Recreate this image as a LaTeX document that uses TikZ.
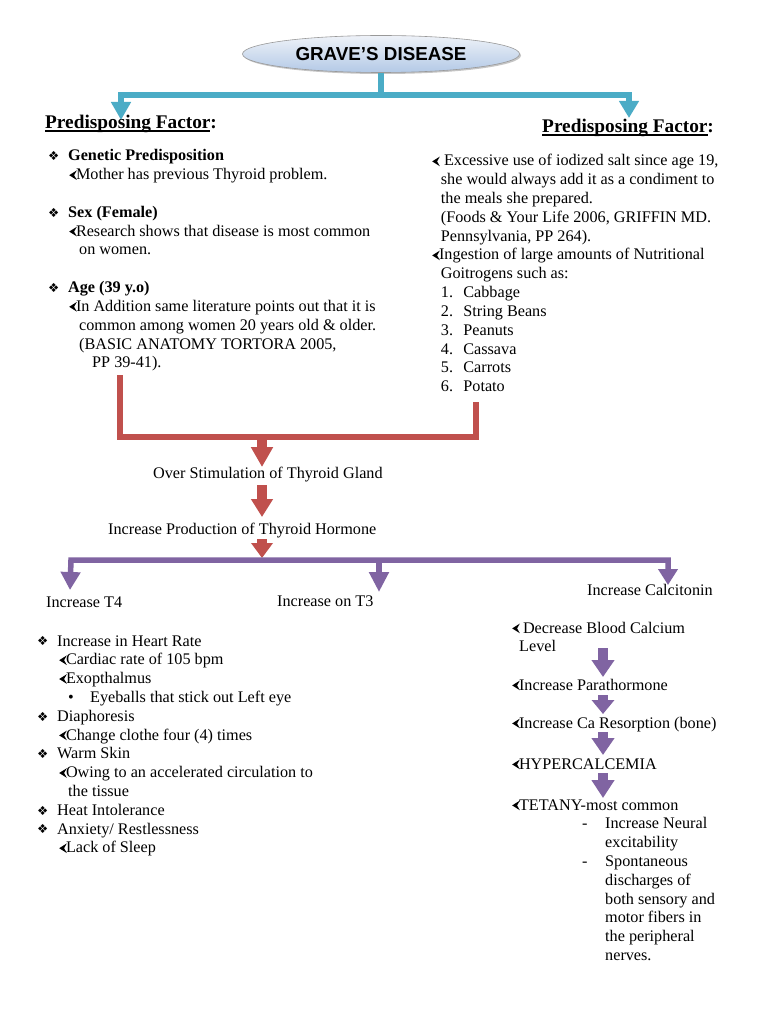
\documentclass[tikz,border=0pt]{standalone}
\usepackage{fontspec}
\setmainfont{Liberation Serif}
\newfontfamily\dejavu{DejaVu Sans}
\newfontfamily\arialf{Liberation Sans}
\usetikzlibrary{arrows.meta,shapes.geometric,shadows}
\definecolor{cblue}{HTML}{4BACC6}
\definecolor{cred}{HTML}{C0504D}
\definecolor{cpurp}{HTML}{8064A2}
\definecolor{elltop}{HTML}{EEF2F8}
\definecolor{ellbot}{HTML}{B3C9E6}
\newcommand\bodyfont{\fontsize{16.2}{18.8}\selectfont}
\newcommand\larr{\tikz[baseline=0pt,x=1pt,y=1pt]\fill (0,4.6)--(7.6,9.4)--(4.9,4.6)--(7.6,-0.2)--cycle;\kern-0.8pt}
\newcommand\dia{\makebox[20pt][l]{\raisebox{0.2pt}{\dejavu\fontsize{12.5}{12.5}\selectfont ❖}}}
\newcommand\ulx[1]{\setbox0\hbox{#1}\rlap{\rule[-2.6pt]{\wd0}{1.2pt}}\box0}
\newcommand\blk[2]{\parbox[t]{#1}{\raggedright\bodyfont #2}}
\begin{document}
\begin{tikzpicture}[x=1pt,y=-1pt,
  txt/.style={inner sep=0pt, anchor=base west, font=\bodyfont},
  hd/.style={inner sep=0pt, anchor=base west, font=\bfseries\fontsize{19.3}{22}\selectfont},
  titlebox/.style={ellipse, minimum width=277pt, minimum height=37pt, inner sep=0pt,
     draw=gray!80, line width=0.6pt, top color=elltop, bottom color=ellbot,
     drop shadow={shadow xshift=1.5pt, shadow yshift=-1.5pt, opacity=0.45},
     font=\arialf\bfseries\fontsize{18.8}{20}\selectfont},
  bl/.style={draw=cblue, line width=5.5pt, line join=miter},
  rd/.style={draw=cred, line width=6pt, line join=miter},
  pp/.style={draw=cpurp, line width=5.5pt, line join=miter},
  bltips/.style={{Triangle[length=18pt,width=19pt]}-{Triangle[length=17pt,width=19pt]}},
  rdarrow/.style={draw=cred, line width=10pt},
  pparrow/.style={draw=cpurp, line width=10pt}
]
\useasboundingbox (0,0) rectangle (768,1024);
\fill[white] (0,0) rectangle (768,1024);

% title
\node[titlebox] (t) at (381,54) {GRAVE’S DISEASE};

% headings
\node[hd] (hL) at (45,129) {\ulx{Predisposing Factor}:};
\node[hd] (hR) at (542,133) {\ulx{Predisposing Factor}:};

% blue connector
\coordinate (bj) at (381,95);
\coordinate (bcL) at (121,95);
\coordinate (bcR) at (629,95);
\coordinate (btL) at (121,120);
\coordinate (btR) at (629,118);
\draw[bl] (t.south) -- (bj);
\draw[bl,bltips] (btL) -- (bcL) -- (bcR) -- (btR);

% upper left block
\node[txt] (genetic) at (48,161) {\blk{340pt}{%
\dia\textbf{Genetic Predisposition}\\
\hspace*{21pt}\larr Mother has previous Thyroid problem.\\[18.8pt]
\dia\textbf{Sex (Female)}\\
\hspace*{21pt}\larr Research shows that disease is most common\\
\hspace*{31pt}on women.\\[18.8pt]
\dia\textbf{Age (39 y.o)}\\
\hspace*{21pt}\larr In Addition same literature points out that it is\\
\hspace*{31pt}common among women 20 years old \& older.\\
\hspace*{31pt}(BASIC ANATOMY TORTORA 2005,\\
\hspace*{44pt}PP 39-41).}};

% upper right block
\node[txt] (salt) at (432,166) {\blk{320pt}{%
\larr\hspace{5pt}Excessive use of iodized salt since age 19,\\
\hspace*{8.7pt}she would always add it as a condiment to\\
\hspace*{8.7pt}the meals she prepared.\\
\hspace*{8.7pt}(Foods \& Your Life 2006, GRIFFIN MD.\\
\hspace*{8.7pt}Pennsylvania, PP 264).\\
\larr Ingestion of large amounts of Nutritional\\
\hspace*{8.7pt}Goitrogens such as:\\
\hspace*{8.7pt}\makebox[22.5pt][l]{1.}Cabbage\\
\hspace*{8.7pt}\makebox[22.5pt][l]{2.}String Beans\\
\hspace*{8.7pt}\makebox[22.5pt][l]{3.}Peanuts\\
\hspace*{8.7pt}\makebox[22.5pt][l]{4.}Cassava\\
\hspace*{8.7pt}\makebox[22.5pt][l]{5.}Carrots\\
\hspace*{8.7pt}\makebox[22.5pt][l]{6.}Potato}};

% red bracket
\coordinate (rL) at (120,375);
\coordinate (rLb) at (120,437);
\coordinate (rRb) at (476,437);
\coordinate (rR) at (476,402);
\draw[rd] (rL) -- (rLb) -- (rRb) -- (rR);
\coordinate (ra1) at (262,437);
\coordinate (ra1t) at (262,467);
\draw[rdarrow,-{Triangle[length=20pt,width=21pt]}] (ra1) -- (ra1t);

\node[txt] (os) at (153,478) {Over Stimulation of Thyroid Gland};
\coordinate (ra2) at (262,485);
\coordinate (ra2t) at (262,517);
\draw[rdarrow,-{Triangle[length=18pt,width=21pt]}] (ra2) -- (ra2t);

\node[txt] (ip) at (108,534) {Increase Production of Thyroid Hormone};
\coordinate (ra3) at (262,539);
\coordinate (ra3t) at (262,558);
\draw[rdarrow,-{Triangle[length=15pt,width=21pt]}] (ra3) -- (ra3t);

% purple bar
\coordinate (pcL) at (71,560);
\coordinate (pcR) at (668,560);
\coordinate (ptL) at (70,590);
\coordinate (ptR) at (668,585);
\coordinate (pcM) at (379,560);
\coordinate (ptM) at (379,592);
\draw[pp,{Triangle[length=18pt,width=19pt]}-{Triangle[length=16pt,width=19pt]}] (ptL) -- (pcL) -- (pcR) -- (ptR);
\draw[pp,-{Triangle[length=20pt,width=19pt]}] (pcM) -- (ptM);

\node[txt] (t4) at (46,607) {Increase T4};
\node[txt] (t3) at (277,606) {Increase on T3};
\node[txt] (calc) at (587,595) {Increase Calcitonin};

% lower left block
\node[txt] (heart) at (37,646) {\blk{340pt}{%
\dia Increase in Heart Rate\\
\hspace*{22pt}\larr Cardiac rate of 105 bpm\\
\hspace*{22pt}\larr Exopthalmus\\
\hspace*{31pt}\makebox[22pt][l]{\textbullet}Eyeballs that stick out Left eye\\
\dia Diaphoresis\\
\hspace*{22pt}\larr Change clothe four (4) times\\
\dia Warm Skin\\
\hspace*{22pt}\larr Owing to an accelerated circulation to\\
\hspace*{31pt}the tissue\\
\dia Heat Intolerance\\
\dia Anxiety/ Restlessness\\
\hspace*{22pt}\larr Lack of Sleep}};

% lower right chain
\node[txt] (dec) at (512,633) {\blk{230pt}{%
\larr\hspace{4pt}Decrease Blood Calcium\\
\hspace*{7pt}Level}};
\node[txt] (para) at (512,690) {\larr Increase Parathormone};
\node[txt] (reso) at (512,728) {\larr Increase Ca Resorption (bone)};
\node[txt] (hyper) at (512,769) {\larr HYPERCALCEMIA};
\node[txt] (tet) at (512,810) {\blk{240pt}{%
\larr TETANY-most common\\
\hspace*{70pt}\makebox[23pt][l]{-}Increase Neural\\
\hspace*{93pt}excitability\\
\hspace*{70pt}\makebox[23pt][l]{-}Spontaneous\\
\hspace*{93pt}discharges of\\
\hspace*{93pt}both sensory and\\
\hspace*{93pt}motor fibers in\\
\hspace*{93pt}the peripheral\\
\hspace*{93pt}nerves.}};

\coordinate (s1) at (603,648);
\coordinate (s1t) at (603,677);
\coordinate (s2) at (603,695);
\coordinate (s2t) at (603,714);
\coordinate (s3) at (603,732);
\coordinate (s3t) at (603,755);
\coordinate (s4) at (603,773);
\coordinate (s4t) at (603,798);
\draw[pparrow,-{Triangle[length=17pt,width=22pt]}] (s1) -- (s1t);
\draw[pparrow,-{Triangle[length=14pt,width=22pt]}] (s2) -- (s2t);
\draw[pparrow,-{Triangle[length=17pt,width=22pt]}] (s3) -- (s3t);
\draw[pparrow,-{Triangle[length=18pt,width=22pt]}] (s4) -- (s4t);
\end{tikzpicture}
\end{document}
